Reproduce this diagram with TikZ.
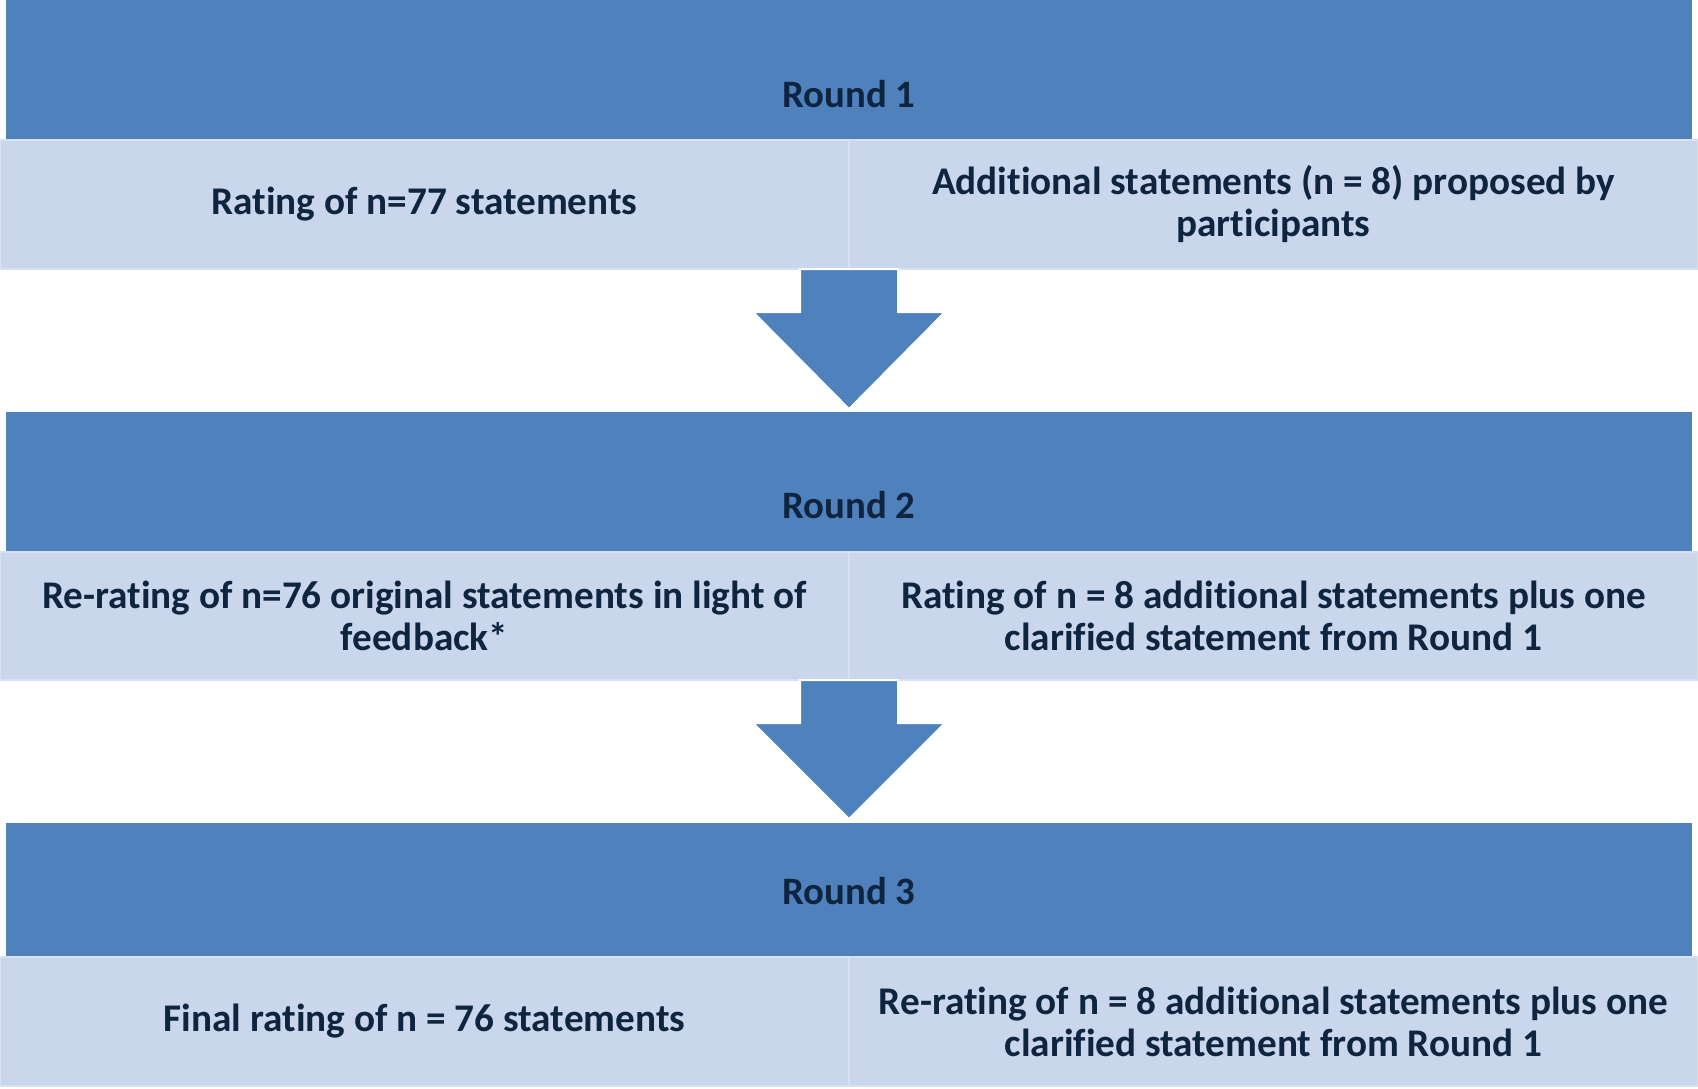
\documentclass[tikz,border=0pt]{standalone}
\usepackage{fontspec}
\setmainfont{Carlito}[Ligatures=NoCommon]
\usetikzlibrary{calc}
\definecolor{hdrblue}{HTML}{4F81BD}
\definecolor{cellfill}{HTML}{C9D6EB}
\definecolor{cellline}{HTML}{D8E1F0}
\definecolor{navy}{HTML}{0F243E}
\tikzset{
  hdrbox/.style={rectangle, fill=hdrblue, draw=none, inner sep=0pt, outer sep=0pt,
    minimum width=843pt},
  cellbox/.style={rectangle, fill=cellfill, draw=cellline, line width=1.25pt, inner sep=0pt,
    outer sep=0pt, minimum width=424.5pt, align=center, text=navy,
    font=\fontsize{19.6}{21}\selectfont\bfseries},
  hdrtext/.style={anchor=base, inner sep=0pt, text=navy, font=\fontsize{19.4}{21}\selectfont\bfseries},
  bigarrow/.style={fill=hdrblue, draw=white, line width=1pt, line join=miter},
}
\begin{document}
\begin{tikzpicture}[x=0.5pt, y=-0.5pt]
\useasboundingbox (0,0) rectangle (1698,1088);
\fill[white] (0,0) rectangle (1698,1088);
% headers
\node[hdrbox, minimum height=70pt] (h1) at (849,70) {};
\node[hdrbox, minimum height=70pt] (h2) at (849,482) {};
\node[hdrbox, minimum height=67pt] (h3) at (849,890) {};
% cells
\node[cellbox, minimum height=64.5pt] (c1l) at (424.5,204.5) {Rating of n=77 statements};
\node[cellbox, minimum height=64.5pt] (c1r) at (1273.5,204.5) {Additional statements (n = 8) proposed by\\participants};
\node[cellbox, minimum height=64pt] (c2l) at (424.5,616) {Re-rating of n=76 original statements in light of\\feedback*};
\node[cellbox, minimum height=64pt] (c2r) at (1273.5,616) {Rating of n = 8 additional statements plus one\\clarified statement from Round 1};
\node[cellbox, minimum height=64.5pt] (c3l) at (424.5,1021.5) {Final rating of n = 76 statements};
\node[cellbox, minimum height=64.5pt] (c3r) at (1273.5,1021.5) {Re-rating of n = 8 additional statements plus one\\clarified statement from Round 1};
% header texts
\node[hdrtext] (t1) at (849,107) {Round 1};
\node[hdrtext] (t2) at (849,518) {Round 2};
\node[hdrtext] (t3) at (849,904) {Round 3};
% arrows
\coordinate (a1s) at (c1l.south east);
\coordinate (a1e) at ($(h2.north)+(0,-3)$);
\draw[bigarrow] ($(a1s)+(-49,0)$) -- ($(a1s)+(-49,43)$) -- ($(a1s)+(-96,43)$) -- (a1e)
  -- ($(a1s)+(96,43)$) -- ($(a1s)+(49,43)$) -- ($(a1s)+(49,0)$) -- cycle;
\coordinate (a2s) at (c2l.south east);
\coordinate (a2e) at ($(h3.north)+(0,-4)$);
\draw[bigarrow] ($(a2s)+(-49,0)$) -- ($(a2s)+(-49,43)$) -- ($(a2s)+(-96,43)$) -- (a2e)
  -- ($(a2s)+(96,43)$) -- ($(a2s)+(49,43)$) -- ($(a2s)+(49,0)$) -- cycle;
\end{tikzpicture}
\end{document}
